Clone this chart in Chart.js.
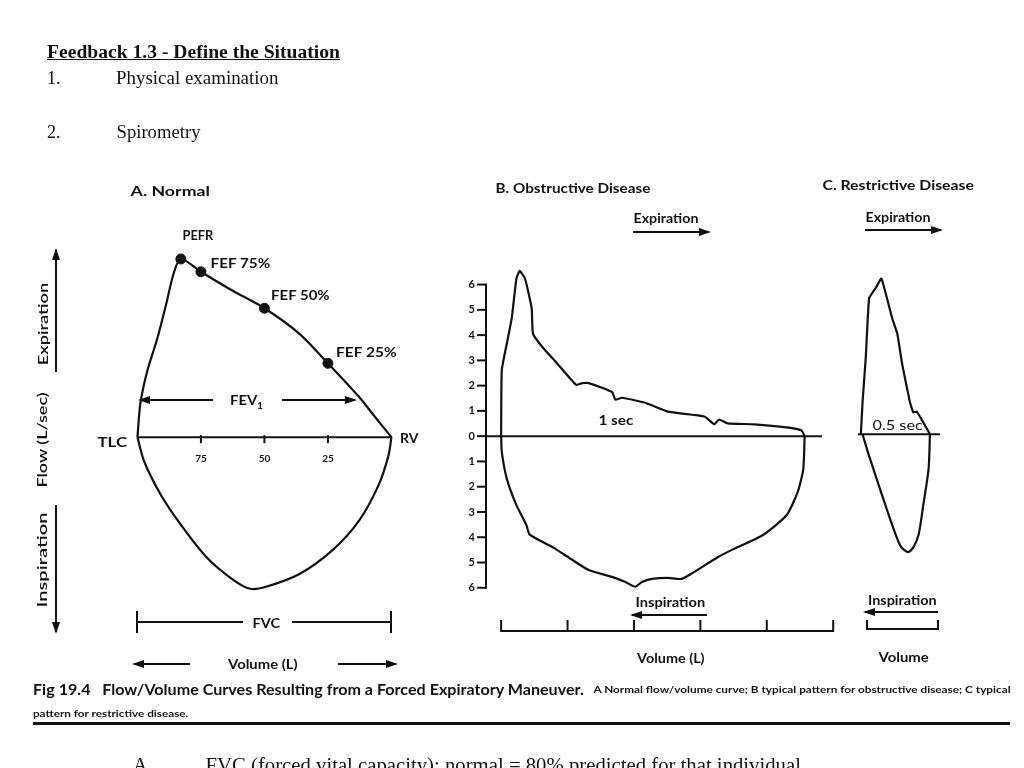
<!DOCTYPE html>
<html>
<head>
<meta charset="utf-8">
<script src="https://cdn.jsdelivr.net/npm/chart.js@4"></script>
<style>
body { margin: 0; background: #fff; }
#wrap { position: relative; width: 1024px; height: 768px; overflow: hidden; background: #fff; }
canvas { position: absolute; left: 0; top: 0; }
.t { position: absolute; white-space: nowrap; line-height: 1; color: #111; font-family: Lato, sans-serif; font-weight: 700; font-size: 14px; transform-origin: center center; z-index: 2; }
.s { font-family: 'Liberation Serif', serif; font-weight: 400; font-size: 18px; }
.rule { position: absolute; left: 33px; top: 722px; width: 977px; height: 3px; background: #111; }
</style>
</head>
<body>
<div id="wrap">
<canvas id="c" width="1024" height="768"></canvas>

<div class="t s" style="font-weight:700;text-decoration:underline" data-x="47" data-y="52" data-w="293">Feedback 1.3 - Define the Situation</div>
<div class="t s" data-x="47" data-y="78">1.</div>
<div class="t s" data-x="116" data-y="78" data-w="162">Physical examination</div>
<div class="t s" data-x="47" data-y="132">2.</div>
<div class="t s" data-x="116" data-y="132" data-w="84">Spirometry</div>

<div class="t" data-x="130" data-y="191" data-w="80">A. Normal</div>
<div class="t" data-x="182" data-y="235" data-w="31">PEFR</div>
<div class="t" data-x="210" data-y="263" data-w="60">FEF 75%</div>
<div class="t" data-x="271" data-y="295" data-w="59">FEF 50%</div>
<div class="t" data-x="336" data-y="352" data-w="61">FEF 25%</div>
<div class="t" data-x="230" data-y="400" data-w="33">FEV<span style="font-size:9px;position:relative;top:4px">1</span></div>
<div class="t" data-x="97" data-y="442" data-w="30">TLC</div>
<div class="t" data-x="400" data-y="438" data-w="18">RV</div>
<div class="t" data-x="252" data-y="623" data-w="28">FVC</div>
<div class="t" data-x="228" data-y="664" data-w="70">Volume (L)</div>
<div class="t" style="font-weight:600" data-c="1" data-r="-90" data-x="42" data-y="324" data-w="82">Expiration</div>
<div class="t" style="font-weight:600" data-c="1" data-r="-90" data-x="42" data-y="440" data-w="95">Flow (L/sec)</div>
<div class="t" style="font-weight:600" data-c="1" data-r="-90" data-x="42" data-y="560" data-w="95">Inspiration</div>

<div class="t" data-x="495" data-y="188" data-w="155">B. Obstructive Disease</div>
<div class="t" data-x="633" data-y="218" data-w="65">Expiration</div>
<div class="t" data-x="598" data-y="420" data-w="35">1 sec</div>
<div class="t" data-x="635" data-y="602" data-w="70">Inspiration</div>
<div class="t" data-x="637" data-y="658" data-w="68">Volume (L)</div>

<div class="t" data-x="822" data-y="185" data-w="151">C. Restrictive Disease</div>
<div class="t" data-x="865" data-y="217" data-w="65">Expiration</div>
<div class="t" style="font-weight:400" data-x="872" data-y="425" data-w="50">0.5 sec</div>
<div class="t" data-x="868" data-y="600" data-w="69">Inspiration</div>
<div class="t" data-x="878" data-y="657" data-w="50">Volume</div>

<div class="t" style="font-size:15px" data-x="33" data-y="689" data-w="551">Fig 19.4&nbsp;&nbsp; Flow/Volume Curves Resulting from a Forced Expiratory Maneuver.</div>
<div class="t" style="font-size:10px" data-x="593" data-y="689" data-w="417">A Normal flow/volume curve; B typical pattern for obstructive disease; C typical</div>
<div class="t" style="font-size:9px" data-x="33" data-y="713" data-w="155">pattern for restrictive disease.</div>
<div class="rule"></div>
<div class="t s" style="font-size:20px" data-x="133" data-y="765">A.</div>
<div class="t s" style="font-size:20px" data-x="205" data-y="765" data-w="595">FVC (forced vital capacity); normal = 80% predicted for that individual</div>
</div>

<script>
// A. normal loop: volume as % of FVC (TLC = 100, RV = 0), flow in L/sec
let normExpVol   = [100, 98.8, 96.1, 92.2, 88.7, 85.6, 82.9, 75, 63.4, 50, 36.2, 25, 12.8, 6.6, 0];
let normExpFlow  = [0, 1.4, 2.7, 4.0, 5.4, 6.7, 7.24, 6.72, 6.0, 5.24, 4.2, 3.0, 1.64, 0.84, 0];
let normInspVol  = [100, 97.3, 90.7, 82.9, 72.8, 62.3, 55.6, 49.4, 36.2, 23.3, 12.8, 5.1, 1.2, 0];
let normInspFlow = [0, -1.0, -2.36, -3.56, -4.88, -5.8, -6.16, -6.08, -5.56, -4.6, -3.4, -1.96, -0.76, 0];
let normMarkVol  = [82.9, 75, 50, 25];   // PEFR, FEF 75%, FEF 50%, FEF 25%
let normMarkFlow = [7.24, 6.72, 5.24, 3.0];
let normTicks    = [75, 50, 25];

// B. obstructive disease: volume in L, flow in L/sec
let obsExpVol   = [0, 0.01, 0.085, 0.16, 0.23, 0.28, 0.36, 0.46, 0.48, 0.63, 0.83, 1.13, 1.22, 1.32, 1.67, 1.72, 1.82, 2.17, 2.51, 3.06, 3.21, 3.28, 3.41, 3.81, 4.30, 4.52, 4.57];
let obsExpFlow  = [0, 2.61, 3.66, 4.67, 6.23, 6.54, 6.23, 5.06, 4.05, 3.5, 2.92, 2.03, 2.10, 2.10, 1.75, 1.44, 1.52, 1.32, 0.97, 0.78, 0.47, 0.66, 0.51, 0.47, 0.35, 0.23, 0];
let obsInspVol  = [4.57, 4.55, 4.47, 4.30, 3.95, 3.46, 3.26, 2.86, 2.71, 2.51, 2.27, 2.12, 2.02, 1.87, 1.67, 1.32, 1.08, 0.78, 0.43, 0.38, 0.23, 0.085, 0.01, 0];
let obsInspFlow = [0, -1.29, -2.18, -3.12, -3.90, -4.52, -4.79, -5.45, -5.65, -5.61, -5.65, -5.77, -5.96, -5.77, -5.57, -5.30, -4.91, -4.40, -3.90, -3.51, -2.73, -1.68, -0.62, 0];
let obsFlowTicks = [6, 5, 4, 3, 2, 1, 0, -1, -2, -3, -4, -5, -6];
let obsVolTicks  = [0, 1, 2, 3, 4, 5];

// C. restrictive disease
let resExpVol   = [0, 0.025, 0.074, 0.124, 0.22, 0.31, 0.47, 0.55, 0.62, 0.74, 0.79, 0.84, 0.94, 1.04];
let resExpFlow  = [0, 1.25, 3.04, 5.38, 5.77, 6.16, 4.6, 3.97, 2.80, 1.25, 0.86, 0.90, 0.47, 0];
let resInspVol  = [1.04, 1.02, 0.94, 0.87, 0.79, 0.71, 0.60, 0.47, 0.32, 0.124, 0.025];
let resInspFlow = [0, -1.36, -2.80, -3.97, -4.48, -4.67, -4.44, -3.58, -2.42, -0.86, 0];

const ink = '#111';

function pts(xs, ys) {
    return xs.map((x, i) => ({ x: x, y: ys[i] }));
}

// min/max for a full-canvas scale so that value v0 lands on pixel p0 and v1 on p1
function fit(p0, v0, p1, v1, size, vertical) {
    const k = (p1 - p0) / (v1 - v0);
    const a = v0 - p0 / k, b = v0 + (size - p0) / k;
    return {
        type: 'linear', display: false, axis: vertical ? 'y' : 'x',
        min: Math.min(a, b), max: Math.max(a, b),
        reverse: vertical ? k > 0 : k < 0
    };
}

function curve(xs, ys, p, tension) {
    return {
        data: pts(xs, ys), xAxisID: 'x' + p, yAxisID: 'y' + p,
        showLine: true, borderColor: ink, borderWidth: 2.2, pointRadius: 0,
        tension: tension, borderJoinStyle: 'round', clip: false
    };
}

function seg(c, x1, y1, x2, y2) {
    c.beginPath(); c.moveTo(x1, y1); c.lineTo(x2, y2); c.stroke();
}
function arrow(c, x1, y1, x2, y2) {
    seg(c, x1, y1, x2, y2);
    const a = Math.atan2(y2 - y1, x2 - x1), L = 10, W = 4;
    c.beginPath();
    c.moveTo(x2 + 2 * Math.cos(a), y2 + 2 * Math.sin(a));
    c.lineTo(x2 - L * Math.cos(a) + W * Math.sin(a), y2 - L * Math.sin(a) - W * Math.cos(a));
    c.lineTo(x2 - L * Math.cos(a) - W * Math.sin(a), y2 - L * Math.sin(a) + W * Math.cos(a));
    c.closePath(); c.fill();
}

const deco = {
    id: 'deco',
    afterDatasetsDraw(chart) {
        const c = chart.ctx, s = chart.scales;
        c.save();
        c.strokeStyle = ink; c.fillStyle = ink; c.lineWidth = 2;

        // A: zero line TLC -> RV with % ticks
        const ya = s.yA.getPixelForValue(0);
        seg(c, s.xA.getPixelForValue(100), ya, s.xA.getPixelForValue(0), ya);
        c.font = 'bold 10px Lato'; c.textAlign = 'center'; c.textBaseline = 'middle';
        normTicks.forEach(t => {
            const x = s.xA.getPixelForValue(t);
            seg(c, x, ya - 2, x, ya + 6);
            c.fillText(t, x, ya + 22);
        });
        arrow(c, 213, 400, 140, 400);
        arrow(c, 282, 400, 355, 400);
        // FVC bracket
        seg(c, 137, 622, 243, 622); seg(c, 292, 622, 391, 622);
        seg(c, 137, 611, 137, 633); seg(c, 391, 611, 391, 633);
        arrow(c, 190, 664, 134, 664);
        arrow(c, 338, 664, 396, 664);
        arrow(c, 56, 372, 56, 250);
        arrow(c, 56, 505, 56, 632);

        // B: flow axis, zero line, volume ruler
        const yb0 = s.yB.getPixelForValue(0);
        seg(c, 486, s.yB.getPixelForValue(6) - 1, 486, s.yB.getPixelForValue(-6) + 1);
        c.font = 'bold 11px Lato'; c.textAlign = 'right';
        obsFlowTicks.forEach(t => {
            const y = s.yB.getPixelForValue(t);
            seg(c, 477, y, 486, y);
            c.fillText(Math.abs(t), 475, y);
        });
        seg(c, 486, yb0, 822, yb0);
        seg(c, s.xB.getPixelForValue(0), 631, s.xB.getPixelForValue(5), 631);
        obsVolTicks.forEach(t => {
            const x = s.xB.getPixelForValue(t);
            seg(c, x, 632, x, 620);
        });
        arrow(c, 633, 232, 709, 232);
        arrow(c, 707, 615, 632, 615);

        // C: zero line and volume bracket
        const yc0 = s.yC.getPixelForValue(0);
        seg(c, 858, yc0, 940, yc0);
        seg(c, 867, 629, 938, 629);
        seg(c, 867, 630, 867, 620); seg(c, 938, 630, 938, 620);
        arrow(c, 865, 230, 941, 230);
        arrow(c, 938, 612, 865, 612);
        c.restore();
    }
};

new Chart(document.getElementById('c'), {
    type: 'scatter',
    data: {
        datasets: [
            curve(normExpVol, normExpFlow, 'A', 0.3),
            curve(normInspVol, normInspFlow, 'A', 0.3),
            {
                data: pts(normMarkVol, normMarkFlow), xAxisID: 'xA', yAxisID: 'yA',
                pointRadius: 5, pointBackgroundColor: ink, pointBorderColor: ink, clip: false
            },
            curve(obsExpVol, obsExpFlow, 'B', 0.15),
            curve(obsInspVol, obsInspFlow, 'B', 0.2),
            curve(resExpVol, resExpFlow, 'C', 0.1),
            curve(resInspVol, resInspFlow, 'C', 0.25)
        ]
    },
    options: {
        responsive: false,
        animation: false,
        layout: { padding: 0 },
        plugins: { legend: { display: false }, tooltip: { enabled: false } },
        scales: {
            xA: fit(133, 100, 390, 0, 1024),
            yA: fit(438, 0, 238, 8, 768, true),
            xB: fit(501, 0, 837, 5, 1024),
            yB: fit(437, 0, 283, 6, 768, true),
            xC: fit(865, 0, 932.2, 1, 1024),
            yC: fit(435, 0, 281, 6, 768, true)
        }
    },
    plugins: [deco]
});

// place text labels: data-x left edge (or centre with data-c), data-y centre, data-w width
document.querySelectorAll('.t').forEach(el => {
    const w = el.offsetWidth, h = el.offsetHeight;
    const tw = +el.dataset.w || w;
    const cx = el.dataset.c ? +el.dataset.x : +el.dataset.x + tw / 2;
    el.style.left = (cx - w / 2) + 'px';
    el.style.top = (+el.dataset.y - h / 2) + 'px';
    el.style.transform = (el.dataset.r ? 'rotate(' + el.dataset.r + 'deg) ' : '') + 'scaleX(' + (tw / w) + ')';
});
</script>
</body>
</html>
